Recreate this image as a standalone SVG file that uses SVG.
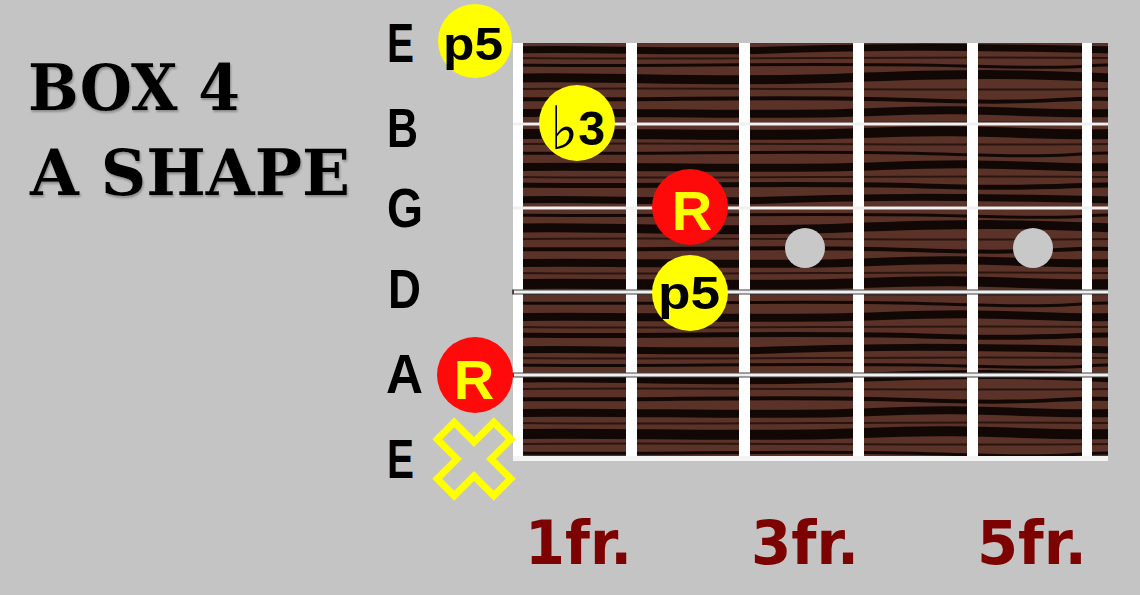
<svg xmlns="http://www.w3.org/2000/svg" width="1140" height="595" viewBox="0 0 1140 595">
<defs>
<style>
.str{font-family:"Liberation Sans",Arial,sans-serif;font-weight:bold;font-size:55px;fill:#000}
.title{font-family:"DejaVu Serif","Liberation Serif",serif;font-weight:bold;font-size:64px;fill:#000}
.fr{font-family:"DejaVu Sans","Liberation Sans",sans-serif;font-weight:bold;font-size:60px;fill:#7d0303}
.nt{font-family:"Liberation Sans","DejaVu Sans",sans-serif;font-weight:bold;text-anchor:middle}
.fret{fill:#ffffff}
.string{stroke:#f0f0f0;stroke-width:3}
.yel{fill:#ffff00}
.red{fill:#ff0a0a}
.dot{fill:#c8c8c8}
</style>
<filter id="shadow" x="-5%" y="-10%" width="110%" height="130%">
<feDropShadow dx="1" dy="2" stdDeviation="1" flood-color="#666" flood-opacity="0.6"/>
</filter>
<pattern id="wood" patternUnits="userSpaceOnUse" x="513" y="43" width="600" height="150">
<rect width="600" height="150" fill="#5a3227"/>
<g fill="none" stroke="#110705">
<path d="M0,7 C80,5 160,10 260,7 S420,3 600,7" stroke-width="7"/>
<path d="M0,22 C150,24 300,19 450,23 S560,21 600,22" stroke-width="3"/>
<path d="M0,35 C100,33 200,40 330,35 S520,31 600,35" stroke-width="9"/>
<path d="M0,56 C140,58 260,52 400,57 S540,54 600,56" stroke-width="4"/>
<path d="M0,70 C120,68 250,74 360,69 S520,72 600,70" stroke-width="8"/>
<path d="M0,91 C110,89 230,95 350,90 S520,93 600,91" stroke-width="10"/>
<path d="M0,110 C150,112 290,106 430,111 S560,109 600,110" stroke-width="3"/>
<path d="M0,124 C120,122 240,128 370,123 S530,126 600,124" stroke-width="8"/>
<path d="M0,142 C140,144 280,139 410,143 S560,141 600,142" stroke-width="5"/>
</g>
<g fill="none" stroke="#2a140e" stroke-width="2">
<path d="M0,15 C200,17 400,13 600,15"/>
<path d="M0,46 C200,44 400,48 600,46"/>
<path d="M0,80 C200,82 400,78 600,80"/>
<path d="M0,101 C200,99 400,103 600,101"/>
<path d="M0,134 C200,136 400,132 600,134"/>
</g>
</pattern>
</defs>
<rect width="1140" height="595" fill="#c4c4c4"/>

<g id="title" filter="url(#shadow)">
<text class="title" x="28" y="110" textLength="212" lengthAdjust="spacingAndGlyphs">BOX 4</text>
<text class="title" x="30" y="195" textLength="320" lengthAdjust="spacingAndGlyphs">A SHAPE</text>
</g>

<g id="string-names">
<text class="str" x="387" y="62" textLength="27" lengthAdjust="spacingAndGlyphs">E</text>
<text class="str" x="387" y="147" textLength="31" lengthAdjust="spacingAndGlyphs">B</text>
<text class="str" x="387" y="227" textLength="36" lengthAdjust="spacingAndGlyphs">G</text>
<text class="str" x="388" y="308" textLength="33" lengthAdjust="spacingAndGlyphs">D</text>
<text class="str" x="386" y="393" textLength="37" lengthAdjust="spacingAndGlyphs">A</text>
<text class="str" x="387" y="478" textLength="27" lengthAdjust="spacingAndGlyphs">E</text>
</g>

<g id="fretboard">
<rect x="513" y="43" width="595" height="416" fill="url(#wood)"/>
<rect x="513" y="43" width="10" height="416" class="fret"/>
<rect x="626" y="43" width="11" height="416" class="fret"/>
<rect x="739" y="43" width="11" height="416" class="fret"/>
<rect x="853" y="43" width="11" height="416" class="fret"/>
<rect x="967" y="43" width="11" height="416" class="fret"/>
<rect x="1082" y="43" width="10" height="416" class="fret"/>
<circle class="dot" cx="805" cy="248" r="20"/>
<circle class="dot" cx="1033" cy="248" r="20"/>
</g>

<g id="strings">
<line class="string" x1="513" y1="124" x2="1108" y2="124"/>
<line class="string" x1="513" y1="208" x2="1108" y2="208"/>
<line x1="512" y1="292" x2="1108" y2="292" stroke="#444" stroke-width="5"/>
<line class="string" x1="514" y1="292" x2="1108" y2="292"/>
<line x1="512" y1="375" x2="1108" y2="375" stroke="#444" stroke-width="5"/>
<line class="string" x1="514" y1="375" x2="1108" y2="375"/>
<rect x="513" y="456" width="595" height="5" fill="#f4f4f4"/>
</g>

<g id="fret-labels">
<text class="fr" x="525" y="564" textLength="107" lengthAdjust="spacingAndGlyphs">1fr.</text>
<text class="fr" x="751" y="564" textLength="108" lengthAdjust="spacingAndGlyphs">3fr.</text>
<text class="fr" x="977" y="564" textLength="110" lengthAdjust="spacingAndGlyphs">5fr.</text>
</g>

<g id="note-p5-high-e">
<circle class="yel" cx="475" cy="41" r="37"/>
<text class="nt" x="473" y="60" font-size="46" fill="#000" textLength="60" lengthAdjust="spacingAndGlyphs">p5</text>
</g>
<g id="note-b3-b">
<circle class="yel" cx="577" cy="123" r="38"/>
<text x="550" y="145" font-size="48" fill="#000" font-family="Liberation Sans,sans-serif" font-weight="bold"><tspan font-family="DejaVu Sans,sans-serif" font-size="60" font-weight="normal" dy="4">♭</tspan><tspan dy="-4">3</tspan></text>
</g>
<g id="note-r-g">
<circle class="red" cx="690" cy="207" r="38"/>
<text class="nt" x="692" y="230" font-size="56" fill="#ffff00">R</text>
</g>
<g id="note-p5-d">
<circle class="yel" cx="690" cy="293" r="38"/>
<text class="nt" x="689" y="309" font-size="46" fill="#000" textLength="62" lengthAdjust="spacingAndGlyphs">p5</text>
</g>
<g id="note-r-a">
<circle class="red" cx="475" cy="375" r="38"/>
<text class="nt" x="474" y="399" font-size="56" fill="#ffff00">R</text>
</g>
<g id="mute-low-e">
<polygon transform="translate(474 459) rotate(45)" fill="none" stroke="#ffff00" stroke-width="7" stroke-linejoin="miter" points="-12,-40 12,-40 12,-12 40,-12 40,12 12,12 12,40 -12,40 -12,12 -40,12 -40,-12 -12,-12"/>
</g>
</svg>
